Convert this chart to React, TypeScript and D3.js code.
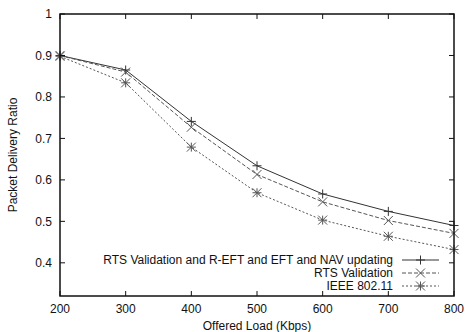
import React from "react";
import * as d3 from "d3";

const loads = [200, 300, 400, 500, 600, 700, 800];
const seriesNames = [
  "RTS Validation and R-EFT and EFT and NAV updating",
  "RTS Validation",
  "IEEE 802.11",
];
const fullScheme = [0.9, 0.865, 0.741, 0.634, 0.566, 0.524, 0.49];
const rtsValidation = [0.9, 0.86, 0.727, 0.613, 0.547, 0.502, 0.471];
const ieee80211 = [0.898, 0.834, 0.679, 0.569, 0.503, 0.464, 0.432];
const xTicks = [200, 300, 400, 500, 600, 700, 800];
const yTicks = [0.4, 0.5, 0.6, 0.7, 0.8, 0.9, 1];

const W = 474, H = 332;
const M = { left: 60, top: 14, right: 454, bottom: 296 };

function Marker({ kind, x, y, color }: { kind: string; x: number; y: number; color: string }) {
  const s = 4.5;
  const plus = `M${x - s},${y}L${x + s},${y}M${x},${y - s}L${x},${y + s}`;
  const cross = `M${x - s},${y - s}L${x + s},${y + s}M${x - s},${y + s}L${x + s},${y - s}`;
  let d = plus;
  if (kind === "x") d = cross;
  if (kind === "*") d = plus + cross;
  return <path d={d} stroke={color} strokeWidth={1} fill="none" />;
}

export default function App() {
  const x = d3.scaleLinear().domain([200, 800]).range([M.left, M.right]);
  const y = d3.scaleLinear().domain([0.32, 1]).range([M.bottom, M.top]);
  const series = [
    { name: seriesNames[0], values: fullScheme, dash: "", marker: "+", color: "#333" },
    { name: seriesNames[1], values: rtsValidation, dash: "4,2", marker: "x", color: "#555" },
    { name: seriesNames[2], values: ieee80211, dash: "2,2", marker: "*", color: "#555" },
  ];
  const line = d3
    .line<number>()
    .x((_, i) => x(loads[i]))
    .y((v) => y(v));
  const font = "'Liberation Sans', Arial, Helvetica, sans-serif";
  const tk = 5;
  const fs = 12;
  return (
    <svg width={W} height={H} style={{ position: "absolute", left: 0, top: 0, background: "#fff" }} fontFamily={font}>
      <rect x={0} y={0} width={W} height={H} fill="#fff" />
      {series.map((s, si) => (
        <g key={si}>
          <path d={line(s.values) || ""} fill="none" stroke={s.color} strokeWidth={1} strokeDasharray={s.dash} />
          {s.values.map((v, i) => (
            <Marker key={i} kind={s.marker} x={x(loads[i])} y={y(v)} color={s.color} />
          ))}
        </g>
      ))}
      <rect x={M.left} y={M.top} width={M.right - M.left} height={M.bottom - M.top} fill="none" stroke="#111" strokeWidth={1.5} />
      {yTicks.map((t) => (
        <g key={t}>
          <line x1={M.left} x2={M.left + tk} y1={y(t)} y2={y(t)} stroke="#111" />
          <line x1={M.right} x2={M.right - tk} y1={y(t)} y2={y(t)} stroke="#111" />
          <text x={M.left - 8} y={y(t)} dy="0.35em" textAnchor="end" fontSize={fs} fill="#111">
            {t === 1 ? "1" : t.toFixed(1)}
          </text>
        </g>
      ))}
      {xTicks.map((t) => (
        <g key={t}>
          <line x1={x(t)} x2={x(t)} y1={M.bottom} y2={M.bottom - tk} stroke="#111" />
          <line x1={x(t)} x2={x(t)} y1={M.top} y2={M.top + tk} stroke="#111" />
          <text x={x(t)} y={313} textAnchor="middle" fontSize={fs} fill="#111">
            {t}
          </text>
        </g>
      ))}
      <text x={(M.left + M.right) / 2} y={330} textAnchor="middle" fontSize={fs} fill="#111">
        Offered Load (Kbps)
      </text>
      <text transform={`translate(17,${(M.top + M.bottom) / 2}) rotate(-90)`} textAnchor="middle" fontSize={fs} fill="#111">
        Packet Delivery Ratio
      </text>
      {series.map((s, si) => {
        const ly = 260 + si * 13;
        return (
          <g key={si}>
            <text x={393} y={ly} dy="0.35em" textAnchor="end" fontSize={fs} fill="#111">
              {s.name}
            </text>
            <line x1={402} x2={439} y1={ly} y2={ly} stroke={s.color} strokeDasharray={s.dash} />
            <Marker kind={s.marker} x={420.5} y={ly} color={s.color} />
          </g>
        );
      })}
    </svg>
  );
}
